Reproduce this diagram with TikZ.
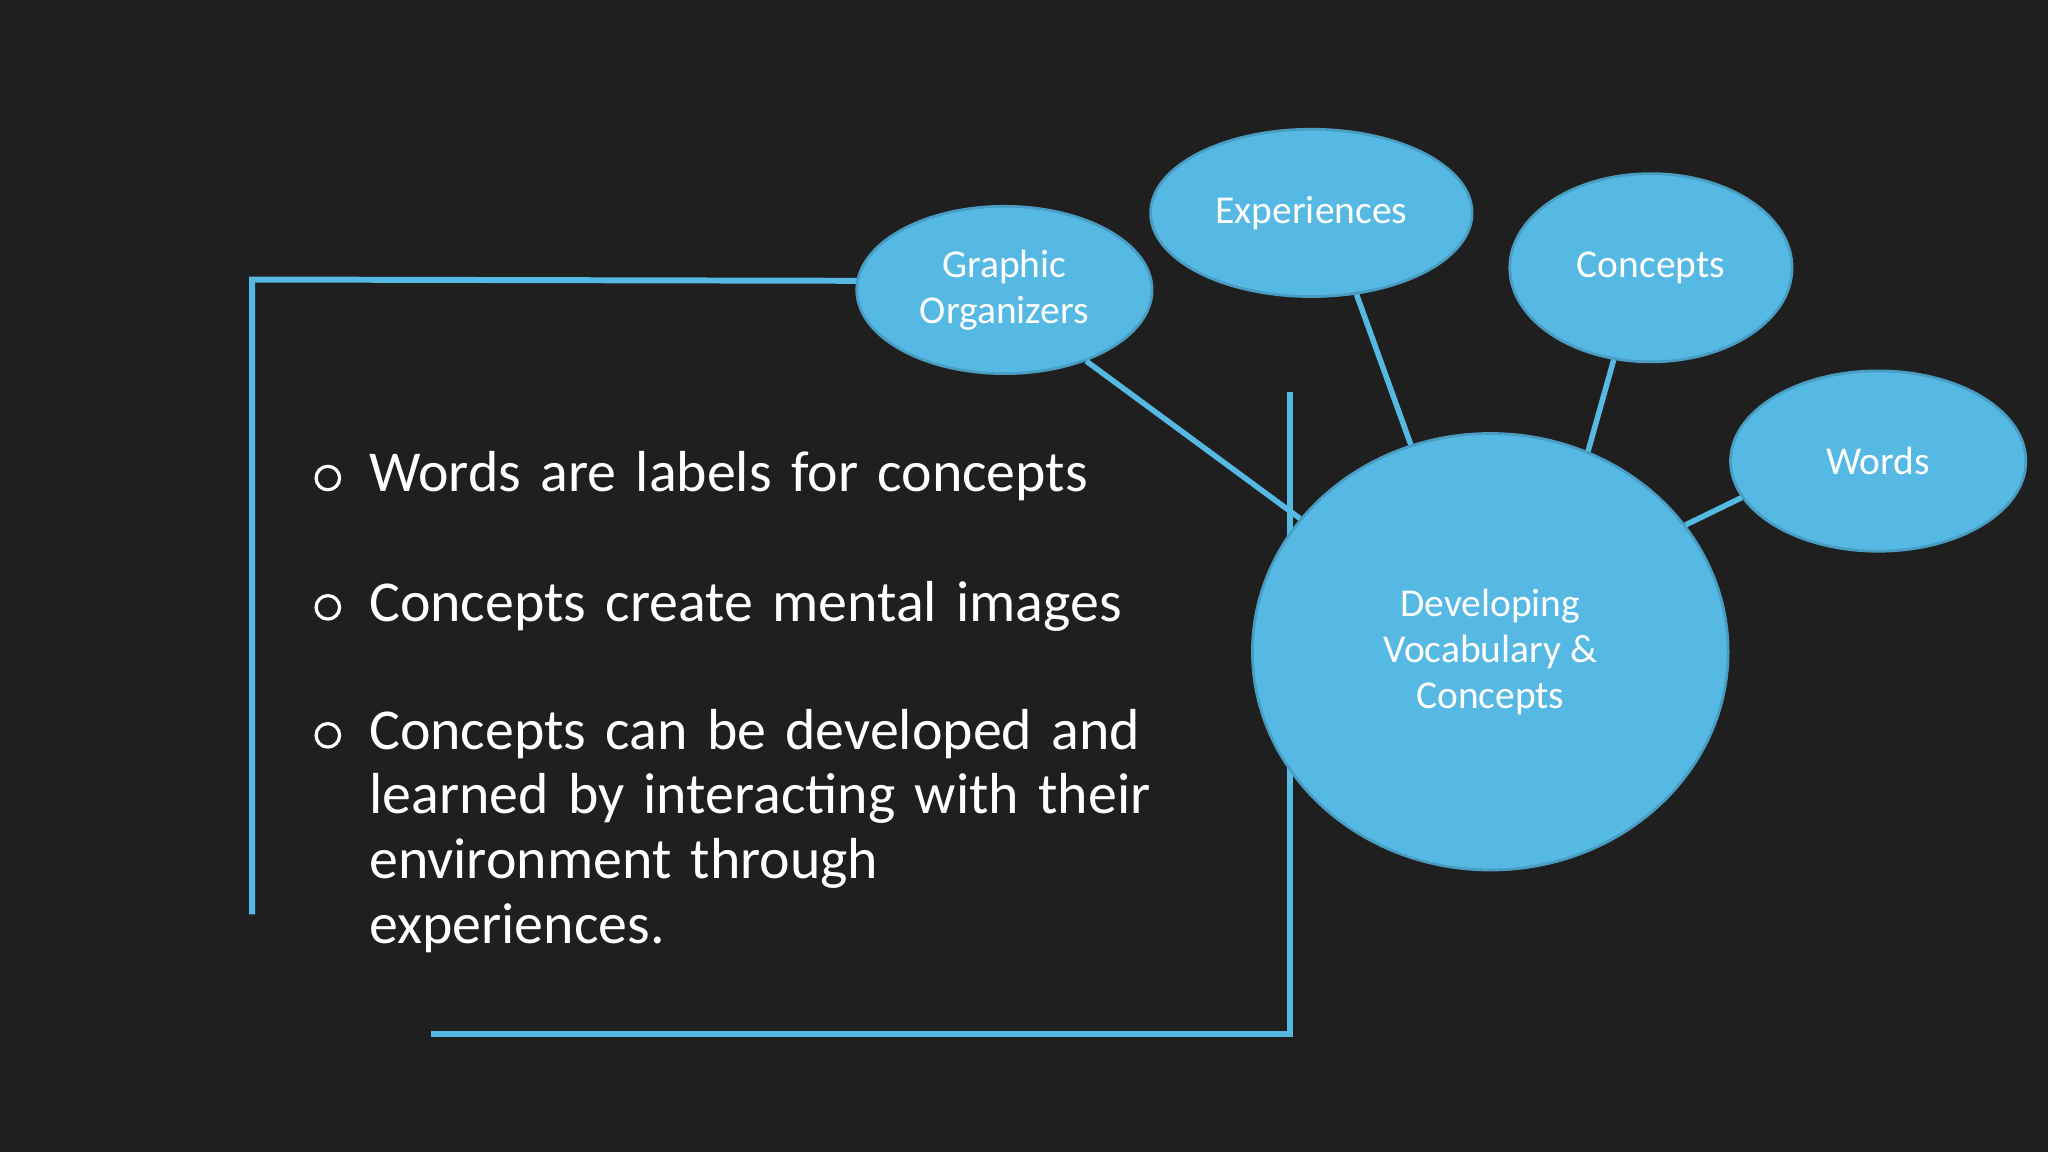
\documentclass[tikz,border=0pt]{standalone}
\usepackage{fontspec}
\usetikzlibrary{shapes.geometric}
\setmainfont{Carlito}
\definecolor{bub}{HTML}{56B9E4}
\definecolor{bg}{HTML}{1F1F1F}
\newcommand{\bfnt}{\fontsize{12.6}{14.1}\selectfont\hyphenpenalty=10000 \exhyphenpenalty=10000 }
\begin{document}
\begin{tikzpicture}[x=0.01cm,y=-0.01cm,
  bubble/.style={ellipse,fill=bub,draw=bub!85!black,line width=0.6pt,text=white,align=center,inner sep=0pt,font=\fontsize{8.6}{10}\selectfont},
  link/.style={draw=bub,line width=1.2pt},
  btext/.style={anchor=north west,text=white,align=left,text width=6.4cm,inner sep=0pt,font=\bfnt},
  bul/.style={draw=white,line width=0.7pt}]
\fill[bg] (0,0) rectangle (1568,882);
\useasboundingbox (0,0) rectangle (1568,882);
% frame
\draw[bub,line width=1.3pt] (657,215) -- (193,214) -- (193,700);
\draw[bub,line width=1.3pt] (988,300) -- (988,792) -- (330,792);
\node[bubble,minimum width=3.64cm,minimum height=3.34cm] (main) at (1141,499) {Developing\\Vocabulary \&\\Concepts};
\node[bubble,minimum width=2.26cm,minimum height=1.28cm] (go) at (769,222) {Graphic\\Organizers};
\node[bubble,minimum width=2.46cm,minimum height=1.28cm] (ex) at (1004,163) {Experiences};
\node[bubble,minimum width=2.16cm,minimum height=1.44cm] (co) at (1264,205) {Concepts};
\node[bubble,minimum width=2.26cm,minimum height=1.38cm] (wo) at (1438,353) {Words};
\draw[link] (go.-41) -- (main.145);
\draw[link] (ex.-61) -- (main.111);
\draw[link] (co.-112) -- (main.64);
\draw[link] (wo.-165) -- (main.33);
% bullets
\node[btext] (b1) at (282,345) {Words are labels for concepts};
\node[btext] (b2) at (282,444) {Concepts create mental images};
\node[btext] (b3) at (282,542) {Concepts can be developed and learned by interacting with their environment through\\experiences.};
\draw[bul] (251,366) circle (9);
\draw[bul] (251,465) circle (9);
\draw[bul] (251,563) circle (9);
\end{tikzpicture}
\end{document}
